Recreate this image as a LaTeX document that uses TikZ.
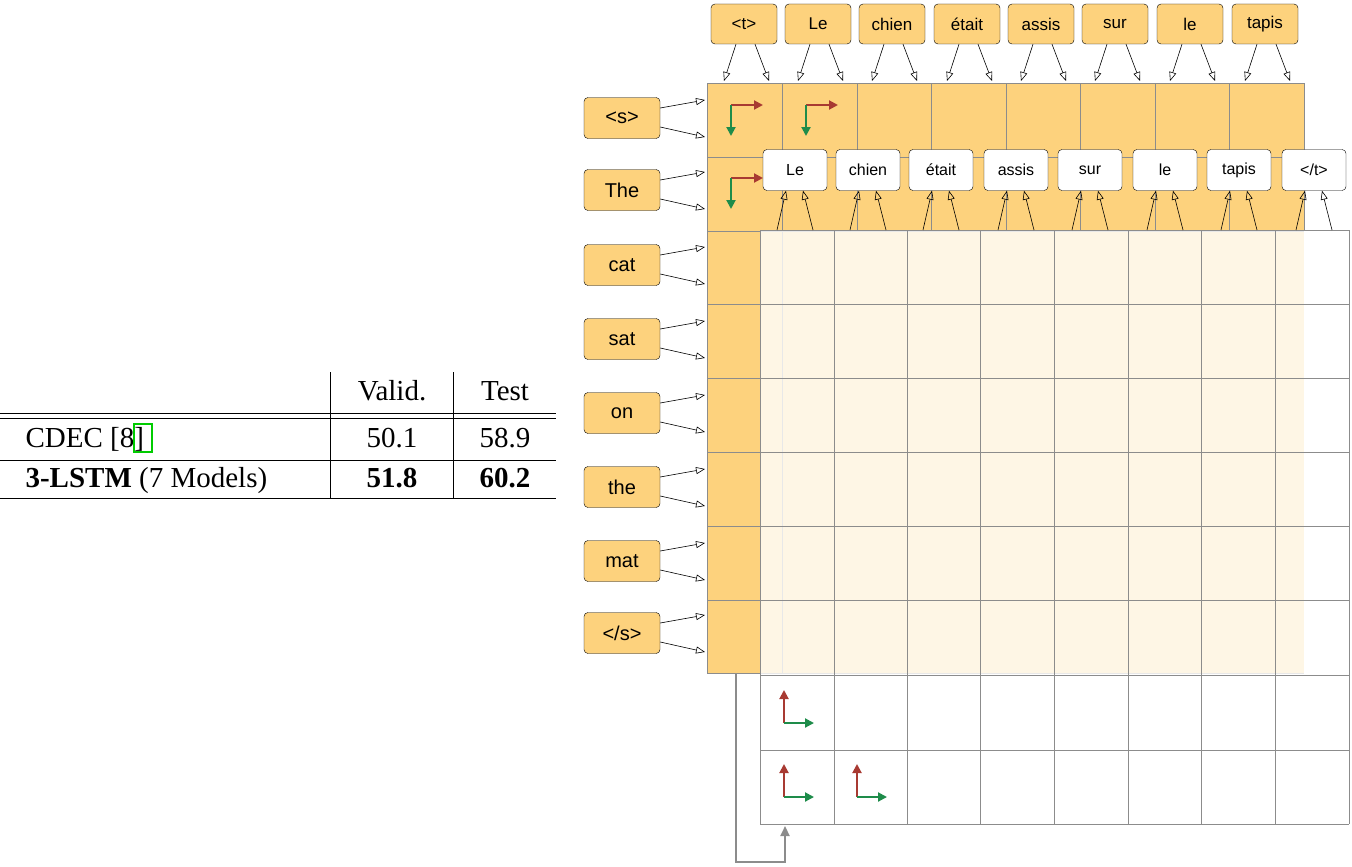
\documentclass[tikz,border=0pt]{standalone}
\usepackage{fontspec}
\setmainfont{Liberation Serif}
\newfontfamily\lsans{Liberation Sans}
\usetikzlibrary{arrows.meta}
\definecolor{ora}{HTML}{FDD27D}
\definecolor{gline}{HTML}{8C8C8C}
\definecolor{ared}{HTML}{A83A32}
\definecolor{agreen}{HTML}{1E8C4A}
\tikzset{
 obox/.style={draw,fill=ora,rounded corners=4pt,minimum height=40pt,font=\lsans\fontsize{17}{17}\selectfont,inner sep=0pt},
 wbox/.style={draw,fill=white,rounded corners=4pt,minimum height=41pt,minimum width=64pt,font=\lsans\fontsize{16}{16}\selectfont,inner sep=0pt},
 oarr/.style={-{Triangle[open,length=9pt,width=7pt]},line width=0.6pt},
 rarr/.style={-{Triangle[length=9pt,width=9pt]},line width=2pt,ared},
 garr/.style={-{Triangle[length=9pt,width=9pt]},line width=2pt,agreen},
 tab/.style={font=\fontsize{29}{29}\selectfont,anchor=base},
}
\begin{document}
\begin{tikzpicture}[x=1pt,y=-1pt]
\useasboundingbox (0,0) rectangle (1352,867);
% back grid
\fill[ora] (707,83) rectangle (1304,673);
\foreach \x in {707,782,857,931,1006,1080,1155,1229,1304} \draw[gline,line width=0.8pt] (\x,83) -- (\x,231);
\draw[gline,line width=0.8pt] (707,231) -- (707,673) (782,231)--(782,673);
\foreach \y in {83,157,231,304,378,452,526,600,673} \draw[gline,line width=0.8pt] (707,\y) -- (1304,\y);
% front grid
\fill[white,opacity=0.8] (760,230) rectangle (1349,675);
\fill[white] (1304,230) rectangle (1349,675);
\fill[white] (760,675) rectangle (1349,824);
\foreach \x in {760,834,907,980,1054,1128,1201,1275,1349} \draw[gline,line width=0.9pt] (\x,230) -- (\x,824);
\foreach \y in {230,304,378,452,526,600,675,750,824} \draw[gline,line width=0.9pt] (760,\y) -- (1349,\y);
% back cell arrows
\foreach \ox/\oy in {731/105,806/105,731/178}{
 \coordinate (o) at (\ox,\oy);
 \draw[rarr] (o) -- ++(32,0);
 \draw[garr] (o) -- ++(0,31);
}
% front cell arrows
\foreach \ox/\oy in {784/723,784/797,857/797}{
 \coordinate (o) at (\ox,\oy);
 \draw[rarr] (o) -- ++(0,-33);
 \draw[garr] (o) -- ++(30,0);
}
% top labels
\foreach \c/\t/\n in {744/{<t>}/t0,818/Le/t1,892/chien/t2,967/{était}/t3,1041/assis/t4,1115/sur/t5,1190/le/t6,1265/tapis/t7}{
 \node[obox,minimum width=66pt] (\n) at (\c,24) {\t};
 \coordinate (\n a) at (\c-20,81);
 \coordinate (\n b) at (\c+25,81);
 \draw[oarr] ([xshift=-8pt]\n.south) -- (\n a);
 \draw[oarr] ([xshift=11pt]\n.south) -- (\n b);
}
% left labels
\foreach \c/\t/\n in {118/{<s>}/s0,190/The/s1,265/cat/s2,339/sat/s3,413/on/s4,487/the/s5,561/mat/s6,633/{</s>}/s7}{
 \node[obox,minimum width=76pt,minimum height=41pt,font=\lsans\fontsize{20}{20}\selectfont] (\n) at (622,\c) {\t};
 \coordinate (\n a) at (705,\c-18);
 \coordinate (\n b) at (705,\c+19);
 \draw[oarr] ([yshift=10pt]\n.east) -- (\n a);
 \draw[oarr] ([yshift=-9pt]\n.east) -- (\n b);
}
% output boxes
\foreach \c/\t/\n in {795/Le/u0,868/chien/u1,941/{était}/u2,1016/assis/u3,1090/sur/u4,1165/le/u5,1239/tapis/u6,1314/{</t>}/u7}{
 \node[wbox] (\n) at (\c,170) {\t};
 \coordinate (\n a) at (\c-18,230);
 \coordinate (\n b) at (\c+18,230);
 \draw[oarr] (\n a) -- ([xshift=-9pt]\n.south);
 \draw[oarr] (\n b) -- ([xshift=8pt]\n.south);
}
% gray loop
\coordinate (ls) at (736,673);
\coordinate (le) at (785,826);
\draw[gline,line width=2.2pt,-{Triangle[length=10pt,width=9pt]}] (ls) -- (736,862) -- (785,862) -- (le);
% table
\draw[line width=0.8pt] (330,372) -- (330,498) (453,372) -- (453,498);
\draw[line width=0.8pt] (0,413) -- (556,413) (0,418) -- (556,418) (0,460) -- (556,460) (0,498) -- (556,498);
\node[tab] (h1) at (392,400) {Valid.};
\node[tab] (h2) at (505,400) {Test};
\node[tab,anchor=base west] (r1) at (22,447) {CDEC [\textcolor{black}{8}]};
\draw[green!80!black,line width=1.5pt] (134,424) rectangle (152,452);
\node[tab] (r1a) at (392,447) {50.1};
\node[tab] (r1b) at (505,447) {58.9};
\node[tab,anchor=base west] (r2) at (22,487) {\textbf{3-LSTM} (7 Models)};
\node[tab] (r2a) at (392,487) {\textbf{51.8}};
\node[tab] (r2b) at (505,487) {\textbf{60.2}};
\end{tikzpicture}
\end{document}
